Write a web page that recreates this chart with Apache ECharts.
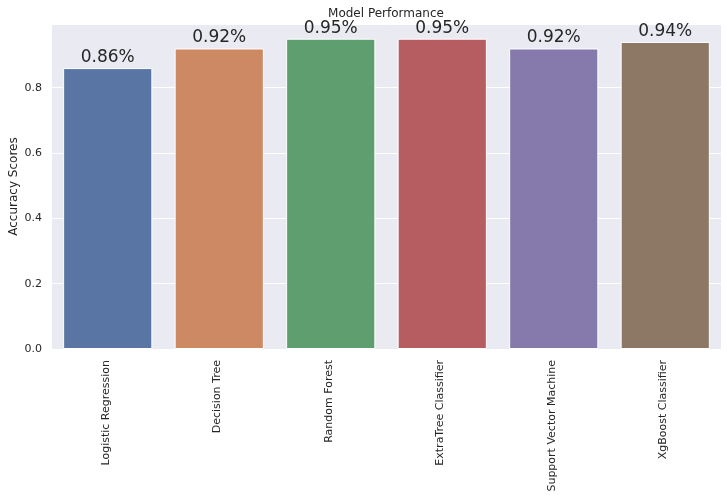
<!DOCTYPE html>
<html>
<head>
<meta charset="utf-8">
<script src="https://cdn.jsdelivr.net/npm/echarts@6/dist/echarts.min.js"></script>
<style>
html, body { margin: 0; padding: 0; background: #fff; }
#chart { width: 727px; height: 498px; }
</style>
</head>
<body>
<div id="chart"></div>
<script>
var models = ['Logistic Regression', 'Decision Tree', 'Random Forest', 'ExtraTree Classifier', 'Support Vector Machine', 'XgBoost Classifier'];
var scores = [0.86, 0.92, 0.95, 0.95, 0.92, 0.94];
var barColors = ['#5875a4', '#cc8963', '#5f9e6e', '#b55d60', '#857aab', '#8d7866'];
var yTicks = [0, 0.2, 0.4, 0.6, 0.8];

var myChart = echarts.init(document.getElementById('chart'));
var fontName = 'DejaVu Sans';

var option = {
	animation: false,
	backgroundColor: '#ffffff',
	textStyle: { fontFamily: fontName },
	title: {
		text: 'Model Performance',
		left: 381,
		top: 3,
		textAlign: 'center',
		textStyle: { fontFamily: fontName, fontSize: 12, fontWeight: 'normal', color: '#262626' }
	},
	grid: {
		left: 52,
		right: 6,
		top: 24,
		bottom: 149,
		outerBoundsMode: 'none',
		backgroundColor: '#eaeaf2',
		borderWidth: 0,
		show: true
	},
	xAxis: {
		type: 'category',
		data: models,
		axisLine: { show: false },
		axisTick: { show: false },
		axisLabel: { rotate: 90, interval: 0, fontSize: 11, color: '#262626', margin: 11, verticalAlign: 'bottom', lineHeight: 4, fontFamily: fontName },
		splitLine: { show: false }
	},
	yAxis: {
		type: 'value',
		min: 0,
		max: 0.995,
		interval: 0.2,
		name: 'Accuracy Scores',
		nameLocation: 'middle',
		nameGap: 32,
		nameMoveOverlap: false,
		nameTextStyle: { fontSize: 12, color: '#262626', fontFamily: fontName },
		axisLine: { show: false },
		axisTick: { show: false },
		axisLabel: {
			fontSize: 11,
			color: '#262626',
			margin: 10,
			fontFamily: fontName,
			formatter: function (v) { return yTicks.indexOf(Number(v.toFixed(1))) >= 0 ? v.toFixed(1) : ''; }
		},
		splitLine: { show: true, lineStyle: { color: '#ffffff', width: 1 } }
	},
	series: [{
		type: 'bar',
		barWidth: '80%',
		data: scores.map(function (v, i) {
			return { value: v, itemStyle: { color: barColors[i] } };
		}),
		itemStyle: { borderColor: '#ffffff', borderWidth: 1 },
		label: {
			show: true,
			position: 'top',
			distance: 2,
			fontSize: 17,
			color: '#262626',
			fontFamily: fontName,
			formatter: function (p) { return p.value + '%'; }
		}
	}]
};
myChart.setOption(option);
</script>
</body>
</html>
